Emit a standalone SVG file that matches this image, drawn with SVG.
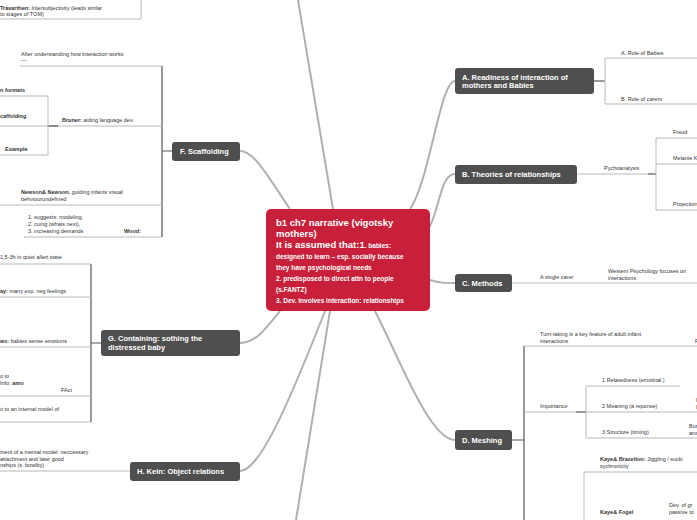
<svg xmlns="http://www.w3.org/2000/svg" width="697" height="520" viewBox="0 0 697 520">
<style>
.c{fill:none;stroke:#b0b0b0;stroke-width:2}
.l{fill:none;stroke:#b8b8b8;stroke-width:1}
.k{fill:none;stroke:#555;stroke-width:1.2}
.n{fill:#4f4f4f}
.nt{font-family:"Liberation Sans",Arial,sans-serif;font-weight:bold;font-size:7.5px;fill:#fff}
.t{font-family:"Liberation Sans",Arial,sans-serif;font-size:5.5px;fill:#333}
.b{font-weight:bold}
</style>
<rect width="697" height="520" fill="#fff"/>
<g id="connectors">
<path class="c" d="M333 209 L298 0"/>
<path class="c" d="M330 311 L296 520"/>
<path class="c" d="M410 209 C430 180 440 81 455 81"/>
<path class="c" d="M428 230 C440 210 440 174 455 174"/>
<path class="c" d="M430 280 C440 283 445 283 455 283"/>
<path class="c" d="M375 311 C400 360 430 440 455 440"/>
<path class="c" d="M290 209 C270 180 255 151 240 151"/>
<path class="c" d="M280 311 C265 330 255 343 240 343"/>
<path class="c" d="M325 311 C290 400 260 471 240 471"/>
<!-- A -->
<path class="k" d="M594 81 H605"/>
<path class="l" d="M605 58 V104 M605 58 H697 M605 104 H697"/>
<!-- B -->
<path class="l" d="M577 174 H648"/><path class="k" d="M648 174 H656"/>
<path class="l" d="M656 138 V210 M656 138 H697 M656 164 H697 M656 210 H697"/>
<!-- C -->
<path class="l" d="M512 283 H697"/>
<!-- D -->
<path class="k" d="M512 440 H524 M524 346 V520"/>
<path class="l" d="M524 346 H697 M524 412 H576"/><path class="k" d="M576 412 H586"/>
<path class="l" d="M586 386 V438 M586 386 H680 M586 412 H697 M586 438 H697"/>
<path class="l" d="M584 472 V520 M584 472 H697"/>
<!-- F -->
<path class="k" d="M172 151 H162 M162 66 V237"/>
<path class="l" d="M20 66 H162 M48 126 H162 M0 205 H162 M24 237 H162"/>
<path class="k" d="M48 126 H58"/>
<path class="l" d="M48 96 V155 M0 96 H48 M0 126 H48 M0 155 H48"/>
<path class="l" d="M0 19 H141 M141 0 V19"/>
<!-- G -->
<path class="k" d="M101 343 H91 M91 264 V422"/>
<path class="l" d="M0 264 H91 M0 297 H91 M0 347 H91 M0 396 H91 M0 422 H91"/>
<!-- H -->
<path class="l" d="M0 471 H130"/>
</g>
<g id="center">
<rect x="266" y="209" width="164" height="102" rx="5" fill="#c8203a"/>
<text font-family="Liberation Sans,Arial,sans-serif" font-weight="bold" fill="#fff">
<tspan x="276" y="226" font-size="9.5">b1 ch7 narrative (vigotsky</tspan>
<tspan x="276" y="237" font-size="9.5">mothers)</tspan>
<tspan x="276" y="248" font-size="9.5">It is assumed that:1<tspan font-size="6.5">. babies:</tspan></tspan>
<tspan x="276" y="259" font-size="6.5">designed to learn – esp. socially because</tspan>
<tspan x="276" y="270" font-size="6.5">they have psychological needs</tspan>
<tspan x="276" y="281" font-size="6.5">2. predisposed to direct attn to people</tspan>
<tspan x="276" y="292" font-size="6.5">(s.FANTZ)</tspan>
<tspan x="276" y="303" font-size="6.5">3. Dev. involves interaction: relationships</tspan>
</text>
</g>
<g id="A"><rect class="n" x="455" y="68" width="139" height="26" rx="3"/>
<text class="nt" x="462" y="80">A. Readiness of interaction of</text><text class="nt" x="462" y="88">mothers and Babies</text>
<text class="t" x="621" y="55">A. Role of Babies</text><text class="t" x="621" y="101">B. Role of carers</text></g>
<g id="B"><rect class="n" x="455" y="165" width="122" height="19" rx="3"/>
<text class="nt" x="462" y="177">B. Theories of relationships</text>
<text class="t" x="604" y="170">Pychoanalysis</text>
<text class="t" x="673" y="134">Freud</text><text class="t" x="673" y="160">Melanie K</text><text class="t" x="673" y="206">Projection</text></g>
<g id="C"><rect class="n" x="455" y="274" width="57" height="18" rx="3"/>
<text class="nt" x="462" y="286">C. Methods</text>
<text class="t" x="540" y="279">A single carer</text>
<text class="t" x="608" y="273">Western Psychology focuses on</text><text class="t" x="608" y="280">interactions</text></g>
<g id="D"><rect class="n" x="455" y="430" width="57" height="20" rx="3"/>
<text class="nt" x="462" y="443">D. Meshing</text>
<text class="t" x="540" y="336">Turn-taking is a key feature of adult infant</text><text class="t" x="540" y="343">interactions</text>
<text class="t" x="695" y="343">F</text>
<text class="t" x="540" y="408">Importance</text>
<text class="t" x="602" y="382">1 Relatedness (emotinal )</text>
<text class="t" x="602" y="408">2 Meaning (a reponse)</text>
<text class="t" x="602" y="434">3 Structure (timing)</text>
<text class="t" x="696" y="402">I</text><text class="t" x="696" y="409">I</text>
<text class="t" x="689" y="428">Bur</text><text class="t" x="689" y="435">aro</text>
<text class="t" x="600" y="461"><tspan class="b">Kaye&amp; Brazelton:</tspan> Jiggling / sucki</text>
<text class="t" x="600" y="468">sychronicity</text>
<text class="t b" x="600" y="514">Kaye&amp; Fogel</text>
<text class="t" x="669" y="507">Dev. of gr</text><text class="t" x="669" y="514">passive to</text></g>
<g id="F"><rect class="n" x="172" y="142" width="68" height="19" rx="3"/>
<text class="nt" x="180" y="154">F. Scaffolding</text>
<text class="t" x="0" y="10"><tspan class="b">Travarthen:</tspan>  Intersubjectivity (leads simlar</text>
<text class="t" x="0" y="16">to stages of TOM)</text>
<text class="t" x="21" y="56">After understanding how interaction works</text><text class="t" x="21" y="62">—</text>
<text class="t b" x="0" y="92">n formats</text><text class="t b" x="0" y="118">caffolding</text><text class="t b" x="5" y="151">Example</text>
<text class="t" x="62" y="122"><tspan class="b">Bruner:</tspan> aiding language dev.</text>
<text class="t" x="21" y="194"><tspan class="b">Newson&amp; Newson.</tspan> guiding infants visual</text><text class="t" x="21" y="201">behviourundefined</text>
<text class="t" x="28" y="219">1. suggests: modeling,</text><text class="t" x="28" y="226">2. cuing (whats next),</text><text class="t" x="28" y="233">3. increasing demands</text>
<text class="t b" x="124" y="233">Wood:</text></g>
<g id="G"><rect class="n" x="101" y="330" width="139" height="26" rx="3"/>
<text class="nt" x="108" y="341">G. Containing: sothing the</text><text class="nt" x="108" y="350">distressed baby</text>
<text class="t" x="0" y="259">1,5-3h in quiet allert state</text>
<text class="t" x="0" y="293"><tspan class="b">ay:</tspan> many exp. neg feelings</text>
<text class="t" x="0" y="343"><tspan class="b">ws:</tspan> babies sense emotions</text>
<text class="t" x="0" y="378">o to</text><text class="t" x="0" y="385">Info: <tspan class="b">amo</tspan></text>
<text class="t" x="61" y="392">FAct</text>
<text class="t" x="0" y="411">o to an internal model of</text></g>
<g id="H"><rect class="n" x="130" y="462" width="110" height="19" rx="3"/>
<text class="nt" x="137" y="474">H. Kein: Object relations</text>
<text class="t" x="0" y="454">ment of a mental model: neccessary</text>
<text class="t" x="0" y="461">attachment and later good</text>
<text class="t" x="0" y="467">nships (s. bowlby)</text></g>
</svg>
